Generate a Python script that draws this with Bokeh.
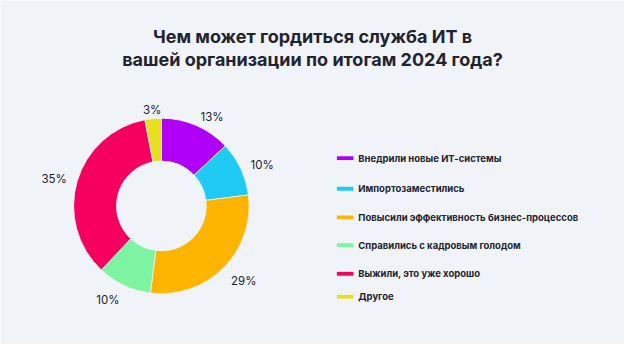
import math
from bokeh.plotting import figure
from bokeh.models import Range1d, ColumnDataSource
from bokeh.core.properties import value
from bokeh.embed import file_html
from bokeh.resources import INLINE

# ---- data ----
categories = [
    "Внедрили новые ИТ-системы",
    "Импортозаместились",
    "Повысили эффективность бизнес-процессов",
    "Справились с кадровым голодом",
    "Выжили, это уже хорошо",
    "Другое",
]
shares = [13, 10, 29, 10, 35, 3]
colors = ["#B000F8", "#1FCBF2", "#FDB500", "#7DF4A2", "#F5005E", "#E6DE1E"]
title_lines = ["Чем может гордиться служба ИТ в", "вашей организации по итогам 2024 года?"]

# ---- layout / style ----
W, H = 624, 344
BG = "#F0F4F8"
TXT = "#23232F"
FONT = "Inter"
cx, cy = 165, 145
r_out, r_in = 90, 46
r_lab = 101
legend_y = [195, 163, 133, 104, 74, 50]

p = figure(width=W, height=H, output_backend="svg", toolbar_location=None,
           x_range=Range1d(0, 640), y_range=Range1d(0, 360), min_border=0)
p.axis.visible = False
p.grid.visible = False
p.outline_line_color = None
p.background_fill_color = BG
p.border_fill_color = BG

total = sum(shares)
starts, ends, lx, ly, la, lb, labels = [], [], [], [], [], [], []
cum = 0.0
for s in shares:
    a0 = math.pi / 2 - cum / total * 2 * math.pi
    cum += s
    a1 = math.pi / 2 - cum / total * 2 * math.pi
    starts.append(a0)
    ends.append(a1)
    mid = (a0 + a1) / 2
    dx, dy = math.cos(mid), math.sin(mid)
    lx.append(cx + r_lab * dx)
    ly.append(cy + r_lab * dy)
    la.append("left" if dx > 0.2 else ("right" if dx < -0.2 else "center"))
    lb.append("top" if dy < 0 else "middle")
    labels.append(f"{s}%")

src = ColumnDataSource(dict(start=starts, end=ends, color=colors))
p.annular_wedge(x=cx, y=cy, inner_radius=r_in, outer_radius=r_out,
                start_angle="start", end_angle="end", direction="clock",
                fill_color="color", line_color=BG, line_width=0.8, source=src)

lsrc = ColumnDataSource(dict(x=lx, y=ly, t=labels, a=la, b=lb))
p.text(x="x", y="y", text="t", text_align="a", text_baseline="b", source=lsrc,
       text_font=value(FONT), text_font_size="11.5px", text_color=TXT)

# title
p.text(x=[320, 320], y=[322, 298], text=title_lines, text_align="center",
       text_baseline="middle", text_font=value(FONT), text_font_size="18px",
       text_font_style="bold", text_color=TXT)

# legend
p.rect(x=[353.5] * len(categories), y=legend_y, width=17, height=4,
       fill_color=colors, line_color=None)
p.text(x=[367] * len(categories), y=legend_y, text=categories, text_align="left",
       text_baseline="middle", text_font=value(FONT), text_font_size="9.5px",
       text_font_style="bold", text_color=TXT)

html = file_html(p, INLINE)
html = html.replace("<body>", f'<body style="background:{BG}">', 1)
open("out.html", "w").write(html)
